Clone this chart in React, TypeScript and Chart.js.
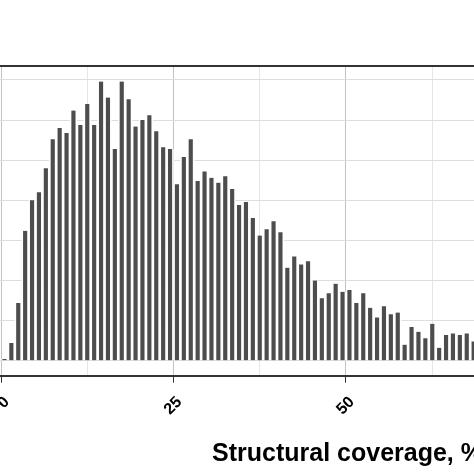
import { useEffect, useRef } from "react";
import Chart from "chart.js/auto";

// histogram bins: 1% wide, centred at k + 0.5 (only the visible ones, 0..68)
const BIN_START = [
	0, 1, 2, 3, 4, 5, 6, 7, 8, 9, 10, 11, 12, 13, 14, 15, 16, 17, 18, 19, 20, 21, 22, 23, 24, 25, 26, 27, 28, 29, 30, 31, 32, 33,
	34, 35, 36, 37, 38, 39, 40, 41, 42, 43, 44, 45, 46, 47, 48, 49, 50, 51, 52, 53, 54, 55, 56, 57, 58, 59, 60, 61, 62, 63, 64, 65,
	66, 67, 68,
];
const COUNTS = [
	1, 11, 36, 81, 100, 105, 120, 138, 145, 142, 156, 147, 160, 147, 174, 164, 132, 174, 163, 146, 150, 153, 143, 133, 132, 110, 127,
	138, 112, 118, 114, 111, 115, 107, 97, 99, 89, 78, 82, 87, 80, 58, 65, 60, 62, 50, 39, 42, 48, 43, 44, 36, 42, 33, 27, 34, 29, 30,
	10, 21, 18, 14, 23, 8, 16, 17, 16, 17, 12,
];
const X_TITLE = "Structural coverage, %";
const X_MIN = -0.145;
const X_MAX = 100.58;
const Y_MIN = -9.35;
const Y_MAX = 183.9;

const FONT = "'Liberation Sans', Arial, sans-serif";
const CANVAS_W = 695;
const CANVAS_H = 474;

const isMajor = (v: number) => v % 25 === 0;

export default function App() {
	const canvasRef = useRef<HTMLCanvasElement | null>(null);

	useEffect(() => {
		if (!canvasRef.current) return;
		const chart = new Chart(canvasRef.current, {
			type: "bar",
			data: {
				datasets: [
					{
						data: BIN_START.map((b, i) => ({ x: b + 0.5, y: COUNTS[i] })),
						backgroundColor: "#4d4d4d",
						borderColor: "#ffffff",
						borderWidth: { left: 1.7, right: 1.7, top: 0, bottom: 0 },
						borderSkipped: false,
						barPercentage: 1,
						categoryPercentage: 1,
					},
				],
			},
			options: {
				responsive: false,
				animation: false,
				layout: { padding: { top: 65.7, left: 0, right: 0, bottom: 0 } },
				plugins: { legend: { display: false }, tooltip: { enabled: false } },
				scales: {
					x: {
						type: "linear",
						offset: false,
						min: X_MIN,
						max: X_MAX,
						grid: {
							offset: false,
							color: (ctx) => (ctx.tick && isMajor(ctx.tick.value) ? "#c2c2c2" : "#e6e6e6"),
							tickColor: (ctx) => (ctx.tick && isMajor(ctx.tick.value) ? "#333333" : "rgba(0,0,0,0)"),
							tickLength: 7,
						},
						border: { color: "#333333", width: 2 },
						ticks: {
							stepSize: 12.5,
							autoSkip: false,
							includeBounds: false,
							minRotation: 45,
							maxRotation: 45,
							padding: 10,
							labelOffset: 6,
							color: "#000",
							font: { family: FONT, size: 16, weight: "bold" },
							callback: (v) => (isMajor(Number(v)) ? String(v) : ""),
						},
						title: {
							display: true,
							text: X_TITLE,
							color: "#000",
							font: { family: FONT, size: 25, weight: "bold" },
							padding: { top: 0, bottom: 5 },
						},
						afterFit: (s) => {
							s.height = 98.3;
							s.paddingLeft = 0;
							s.paddingRight = 0;
						},
					},
					x2: {
						type: "linear",
						position: "top",
						offset: false,
						min: X_MIN,
						max: X_MAX,
						grid: { display: false, drawTicks: false },
						ticks: { display: false },
						border: { display: true, color: "#333333", width: 2 },
						afterFit: (s) => {
							s.height = 0;
						},
					},
					y: {
						min: Y_MIN,
						max: Y_MAX,
						ticks: { display: false, stepSize: 25, includeBounds: false },
						grid: { color: "#dedede", drawTicks: false },
						border: { display: false },
						afterFit: (s) => {
							s.width = 0;
						},
					},
				},
			},
		});
		return () => chart.destroy();
	}, []);

	return (
		<div style={{ position: "absolute", left: 0, top: 0, width: 474, height: 474, overflow: "hidden", background: "#fff" }}>
			<canvas
				ref={canvasRef}
				width={CANVAS_W}
				height={CANVAS_H}
				style={{ display: "block", width: CANVAS_W, height: CANVAS_H }}
			/>
		</div>
	);
}
